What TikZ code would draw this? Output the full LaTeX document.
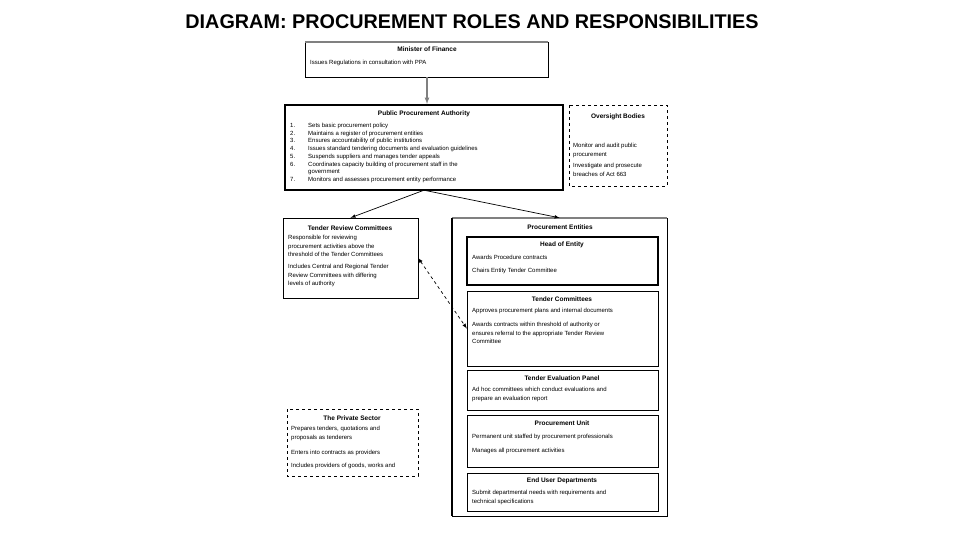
\documentclass[tikz,border=0pt]{standalone}
\usepackage{fontspec}
\setmainfont{Liberation Sans}
\begin{document}
\begin{tikzpicture}[x=1pt,y=-1pt,
  box/.style={draw=black,line width=0.8pt},
  dbox/.style={draw=black,dashed,line width=0.8pt},
  ttl/.style={font=\fontsize{6.5}{7}\selectfont\bfseries,anchor=center,inner sep=0},
  txt/.style={font=\fontsize{6}{8.5}\selectfont,anchor=north west,align=left,inner sep=0},
  arr/.style={-latex,line width=0.7pt}]
\useasboundingbox (0,0) rectangle (960,540);
\node[font=\fontsize{19.8}{22}\selectfont\bfseries] (title) at (472,22) {DIAGRAM: PROCUREMENT ROLES AND RESPONSIBILITIES};
% Minister
\draw[box] (305,42) rectangle (548,77);
\draw[gray,line width=2pt] (305,42) -- (548,42);
\node (mof) at (426.5,59.5) [minimum width=243pt,minimum height=35pt] {};
\node[ttl] (mofT) at (427,49) {Minister of Finance};
\node[txt] (mofX) at (310,60) {Issues Regulations in consultation with PPA};
% PPA
\draw[line width=1.5pt] (285,105) rectangle (563,190);
\node (ppa) at (424,147.5) [minimum width=278pt,minimum height=85pt] {};
\node[ttl] (ppaT) at (424,114) {Public Procurement Authority};
\node[txt,font=\fontsize{6}{7.7}\selectfont] (ppaX) at (290,123) {%
\makebox[18pt][l]{1.}Sets basic procurement policy\\
\makebox[18pt][l]{2.}Maintains a register of procurement entities\\
\makebox[18pt][l]{3.}Ensures accountability of public institutions\\
\makebox[18pt][l]{4.}Issues standard tendering documents and evaluation guidelines\\
\makebox[18pt][l]{5.}Suspends suppliers and manages tender appeals\\
\makebox[18pt][l]{6.}Coordinates capacity building of procurement staff in the\\
\makebox[18pt][l]{}government\\
\makebox[18pt][l]{7.}Monitors and assesses procurement entity performance};
\draw[gray,line width=1.2pt,-latex] (mof.south -| 427,0) -- (427,104);
% Oversight
\draw[dbox] (569,105) rectangle (667,186);
\node (ovs) at (618,145.5) [minimum width=98pt,minimum height=81pt] {};
\node[ttl] (ovsT) at (618,117) {Oversight Bodies};
\node[txt] (ovsX) at (573,143) {Monitor and audit public\\procurement};
\node[txt] (ovsY) at (573,163) {Investigate and prosecute\\breaches of Act 663};
% TRC
\draw[box] (283,218) rectangle (418,298);
\node (trc) at (350.5,258) [minimum width=135pt,minimum height=80pt] {};
\node[ttl] (trcT) at (350,228) {Tender Review Committees};
\node[txt,font=\fontsize{6}{8.7}\selectfont] (trcX) at (288,235) {Responsible for reviewing\\procurement activities above the\\threshold of the Tender Committees};
\node[txt,font=\fontsize{6}{8.7}\selectfont] (trcY) at (288,264) {Includes Central and Regional Tender\\Review Committees with differing\\levels of authority};
% Procurement entities
\draw[box] (452,218) rectangle (667,516);
\draw[gray,line width=2pt] (452,218) -- (667,218);
\draw[line width=1.6pt] (452,218) -- (452,516);
\node (pe) at (559.5,222) [minimum width=215pt,minimum height=8pt] {};
\node[ttl] (peT) at (560,227) {Procurement Entities};
% Head
\draw[line width=1.1pt] (467,237) rectangle (658,285);
\node[ttl] (hoeT) at (562,245) {Head of Entity};
\node[txt] (hoeX) at (472,255) {Awards Procedure contracts};
\node[txt] (hoeY) at (472,268) {Chairs Entity Tender Committee};
% TC
\draw[box] (467,291) rectangle (658,366);
\node (tc) at (562.5,328.5) [minimum width=191pt,minimum height=75pt] {};
\node[ttl] (tcT) at (562,299) {Tender Committees};
\node[txt] (tcX) at (472,308) {Approves procurement plans and internal documents};
\node[txt,font=\fontsize{6}{8.7}\selectfont] (tcY) at (472,322) {Awards contracts within threshold of authority or\\ensures referral to the appropriate Tender Review\\Committee};
% TEP
\draw[box] (467,370) rectangle (658,410);
\node[ttl] (tepT) at (562,378) {Tender Evaluation Panel};
\node[txt,font=\fontsize{6}{8.7}\selectfont] (tepX) at (472,387) {Ad hoc committees which conduct evaluations and\\prepare an evaluation report};
% PU
\draw[box] (467,415) rectangle (658,467);
\node[ttl] (puT) at (562,423) {Procurement Unit};
\node[txt] (puX) at (472,434) {Permanent unit staffed by procurement professionals};
\node[txt] (puY) at (472,448) {Manages all procurement activities};
% EU
\draw[box] (467,473) rectangle (658,511);
\node[ttl] (euT) at (562,481) {End User Departments};
\node[txt,font=\fontsize{6}{8.7}\selectfont] (euX) at (472,490) {Submit departmental needs with requirements and\\technical specifications};
% Private
\draw[dbox] (287,409) rectangle (418,476);
\node[ttl] (psT) at (352,418) {The Private Sector};
\node[txt,font=\fontsize{6}{8.7}\selectfont] (psX) at (291,426) {Prepares tenders, quotations and\\proposals as tenderers};
\node[txt] (psY) at (291,450) {Enters into contracts as providers};
\node[txt] (psZ) at (291,463) {Includes providers of goods, works and};
% arrows
\draw[arr] (ppa.south) -- (trc.north);
\draw[arr] (ppa.south) -- (pe.north);
\draw[latex-latex,dashed,line width=0.7pt] (trc.east) -- (tc.west);
\end{tikzpicture}
\end{document}
